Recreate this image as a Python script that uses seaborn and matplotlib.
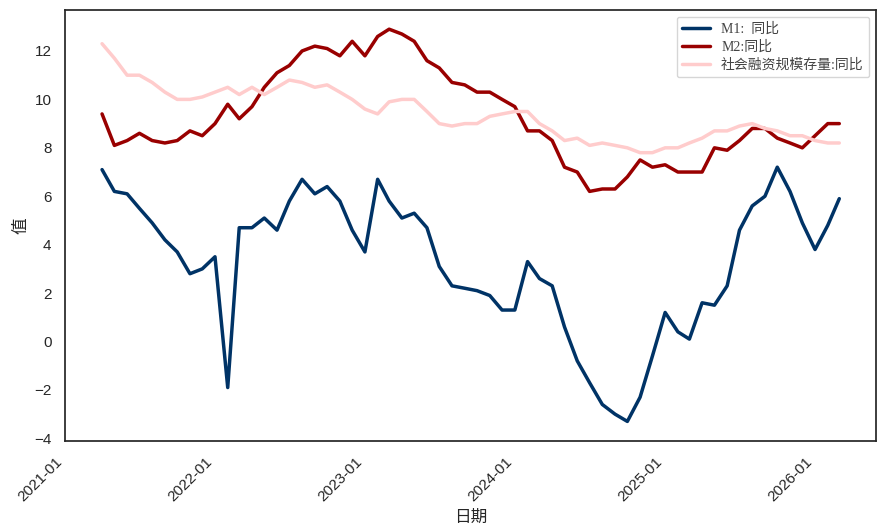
import numpy as np
import pandas as pd
import matplotlib.pyplot as plt
import matplotlib.dates as mdates
import seaborn as sns

# 月度数据 2021-04 ~ 2026-03
dates = pd.date_range('2021-04-01', periods=60, freq='MS')

m1_yoy = [7.1, 6.2, 6.1, 5.5, 4.9, 4.2, 3.7, 2.8, 3.0, 3.5,
          -1.9, 4.7, 4.7, 5.1, 4.6, 5.8, 6.7, 6.1, 6.4, 5.8,
          4.6, 3.7, 6.7, 5.8, 5.1, 5.3, 4.7, 3.1, 2.3, 2.2,
          2.1, 1.9, 1.3, 1.3, 3.3, 2.6, 2.3, 0.6, -0.8, -1.7,
          -2.6, -3.0, -3.3, -2.3, -0.6, 1.2, 0.4, 0.1, 1.6, 1.5,
          2.3, 4.6, 5.6, 6.0, 7.2, 6.2, 4.9, 3.8, 4.8, 5.9]

m2_yoy = [9.4, 8.1, 8.3, 8.6, 8.3, 8.2, 8.3, 8.7, 8.5, 9.0,
          9.8, 9.2, 9.7, 10.5, 11.1, 11.4, 12.0, 12.2, 12.1, 11.8,
          12.4, 11.8, 12.6, 12.9, 12.7, 12.4, 11.6, 11.3, 10.7, 10.6,
          10.3, 10.3, 10.0, 9.7, 8.7, 8.7, 8.3, 7.2, 7.0, 6.2,
          6.3, 6.3, 6.8, 7.5, 7.2, 7.3, 7.0, 7.0, 7.0, 8.0,
          7.9, 8.3, 8.8, 8.8, 8.4, 8.2, 8.0, 8.5, 9.0, 9.0]

tsf_yoy = [12.3, 11.7, 11.0, 11.0, 10.7, 10.3, 10.0, 10.0, 10.1, 10.3,
           10.5, 10.2, 10.5, 10.2, 10.5, 10.8, 10.7, 10.5, 10.6, 10.3,
           10.0, 9.6, 9.4, 9.9, 10.0, 10.0, 9.5, 9.0, 8.9, 9.0,
           9.0, 9.3, 9.4, 9.5, 9.5, 9.0, 8.7, 8.3, 8.4, 8.1,
           8.2, 8.1, 8.0, 7.8, 7.8, 8.0, 8.0, 8.2, 8.4, 8.7,
           8.7, 8.9, 9.0, 8.8, 8.7, 8.5, 8.5, 8.3, 8.2, 8.2]

labels = ['M1:  同比', 'M2:同比', '社会融资规模存量:同比']
colors = ['#003366', '#990000', '#ffcccc']

sns.set_theme(style='white')
plt.rcParams['font.family'] = ['Liberation Sans', 'Noto Sans CJK SC']

fig, ax = plt.subplots(figsize=(8.86, 5.32), dpi=100)
fig.subplots_adjust(left=0.073, right=0.989, top=0.982, bottom=0.171)

for vals, lab, c in zip([m1_yoy, m2_yoy, tsf_yoy], labels, colors):
    sns.lineplot(x=dates, y=vals, ax=ax, color=c, linewidth=2.5, label=lab)

ax.xaxis.set_major_locator(mdates.YearLocator())
ax.xaxis.set_major_formatter(mdates.DateFormatter('%Y-%m'))
ax.set_xlim(pd.Timestamp('2020-12-31'), pd.Timestamp('2026-05-30'))
plt.setp(ax.get_xticklabels(), rotation=45, ha='right')

ax.set_xlabel('日期')
ax.set_ylabel('值')
leg = ax.legend(loc='upper right', labelspacing=0.35,
                prop={'family': ['Liberation Serif', 'Noto Sans CJK SC'], 'size': 10})
for t in leg.get_texts():
    t.set_color('#444444')

plt.savefig('out.png', dpi=100)
